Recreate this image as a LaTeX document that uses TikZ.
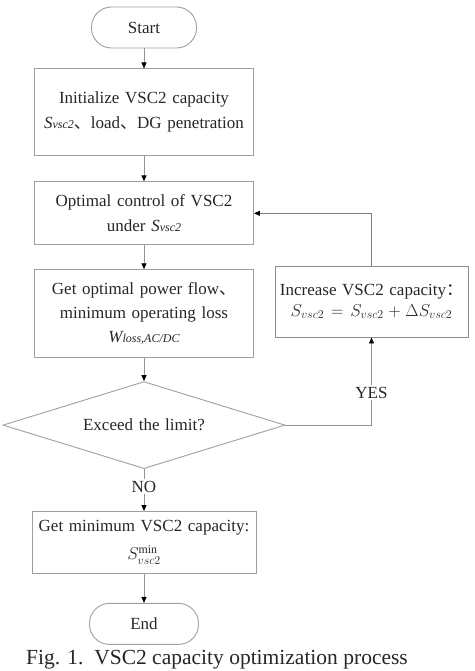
\documentclass[tikz,border=0pt]{standalone}
\usepackage{amsmath}
\usepackage{fontspec}
\setmainfont{Liberation Serif}
\newfontfamily\cjk{Noto Sans CJK SC}
\usetikzlibrary{positioning, shapes.geometric, arrows.meta}
\newcommand{\Sv}{\textit{S{\fontsize{12}{12}\selectfont vsc2}}}
\newcommand{\ds}{{\cjk 、}}
\tikzset{
line/.style={draw=gray!85, line width=0.9pt}, % connectors
arr/.style={line, -{Triangle[black, length=6pt, width=5pt]}}, % connectors with a head
box/.style={draw=gray!75, line width=0.9pt, rectangle, align=center,
  minimum width=219pt, text width=210pt, inner sep=0pt,
  font=\fontsize{17}{25}\selectfont, text=black!85},
term/.style={box, rounded corners=20pt, minimum height=41pt, text width=80pt},
decide/.style={box, diamond, aspect=3.24, minimum width=282pt, minimum height=87pt, text width=150pt},
lbl/.style={fill=white, inner sep=2pt, font=\fontsize{17}{20}\selectfont, text=black!85},
}

\begin{document}
\begin{tikzpicture}
        \useasboundingbox (0,0) rectangle (474pt,-671pt);

        \node[term, minimum width=105pt] (start) at (144pt,-27.5pt) {Start};
        \node[box, minimum height=87pt, below=20pt of start] (init)
          {Initialize VSC2 capacity\\ \Sv\ds load\ds DG penetration};
        \node[box, minimum height=63pt, below=25pt of init] (ctrl)
          {Optimal control of VSC2\\ under \Sv};
        \node[box, minimum height=88pt, below=24pt of ctrl, font=\fontsize{17}{24}\selectfont] (flow)
          {Get optimal power flow\ds\\ minimum operating loss\\ \textit{W{\fontsize{12}{12}\selectfont loss,AC/DC}}};
        \node[decide, below=23pt of flow] (dia) {Exceed the limit?};
        \node[box, minimum height=62pt, text width=224pt, below=42pt of dia, font=\fontsize{17}{28}\selectfont] (min)
          {Get minimum VSC2 capacity:\\ $S_{vsc2}^{\min}$};
        \node[term, minimum width=109pt, below=29pt of min] (end) {End};
        \node[box, draw=gray!90, minimum width=193pt, text width=190pt, minimum height=71pt,
          font=\fontsize{17}{21}\selectfont] (incr) at (371.5pt,-301.5pt)
          {Increase VSC2 capacity{\cjk ：}\\ $S_{vsc2}=S_{vsc2}+\Delta S_{vsc2}$};

        \node[font=\fontsize{21.5}{24}\selectfont, text=black!85] (cap) at (217pt,-660pt)
          {Fig. 1.\ \ VSC2 capacity optimization process};

        \draw[arr] (start) -- (init);
        \draw[arr] (init) -- (ctrl);
        \draw[arr] (ctrl) -- (flow);
        \draw[arr] (flow) -- (dia);
        \draw[arr] (dia) -- node[lbl, pos=0.42] {NO} (min);
        \draw[arr] (min) -- (end);
        \draw[arr] (dia.east) -| node[lbl, pos=0.686] {YES} (incr.south);
        \draw[arr, draw=gray] (incr.north) |- (ctrl.east);
\end{tikzpicture}
\end{document}
